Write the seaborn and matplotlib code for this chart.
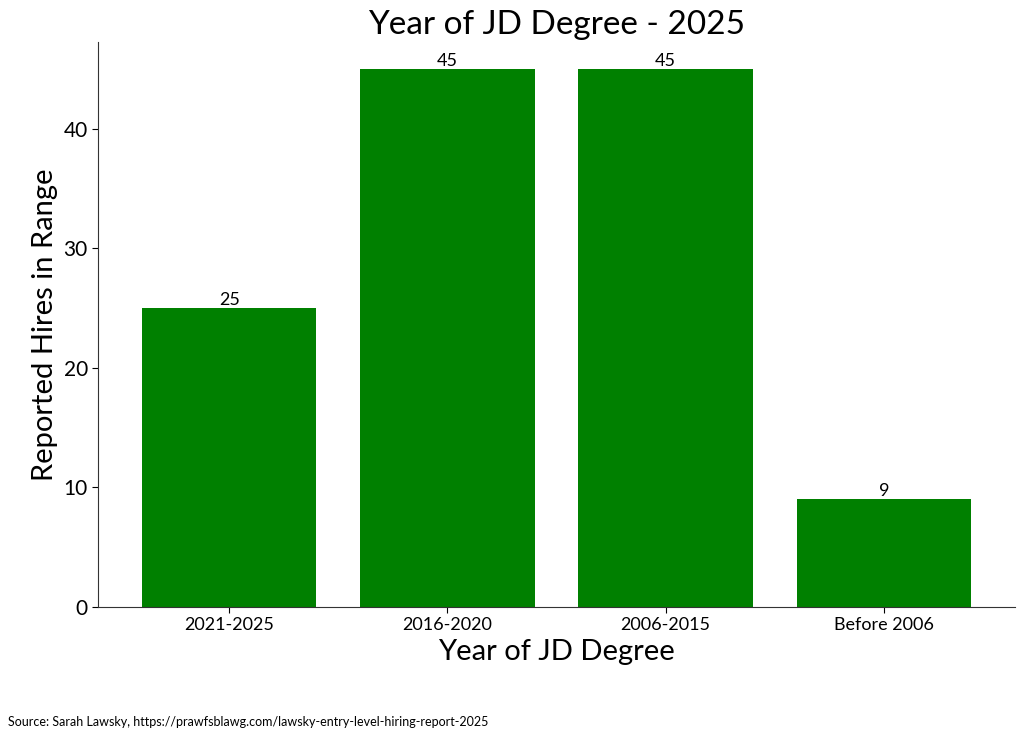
import pandas as pd
import matplotlib.pyplot as plt
import seaborn as sns

# Data
ranges = ["2021-2025", "2016-2020", "2006-2015", "Before 2006"]
hires = [25, 45, 45, 9]

df = pd.DataFrame({"Range": ranges, "Hires": hires})

sns.set_style("white")
plt.rcParams["font.family"] = ["Lato", "DejaVu Sans"]
plt.rcParams["text.color"] = "black"
plt.rcParams["axes.labelcolor"] = "black"
plt.rcParams["xtick.color"] = "black"
plt.rcParams["ytick.color"] = "black"

fig, ax = plt.subplots(figsize=(10.23, 7.39), dpi=100)
sns.barplot(data=df, x="Range", y="Hires", color="green", saturation=1,
            width=0.8, linewidth=0, ax=ax)
ax.bar_label(ax.containers[0], fontsize=13)

ax.set_xlim(-0.6, 3.6)
ax.set_ylim(0, 47.25)
ax.set_title("Year of JD Degree - 2025", fontsize=24)
ax.set_xlabel("Year of JD Degree", fontsize=21)
ax.set_ylabel("Reported Hires in Range", fontsize=21)
ax.tick_params(axis="both", labelsize=13, left=True, bottom=True, length=4)
ax.tick_params(axis="y", labelsize=15)
for s in ["top", "right"]:
    ax.spines[s].set_visible(False)
for s in ["left", "bottom"]:
    ax.spines[s].set_color("#333333")

fig.subplots_adjust(left=0.096, right=0.992, top=0.943, bottom=0.179)
fig.text(0.008, 0.018, "Source: Sarah Lawsky, https://prawfsblawg.com/lawsky-entry-level-hiring-report-2025",
         fontsize=9)
fig.savefig("out.png", dpi=100)
